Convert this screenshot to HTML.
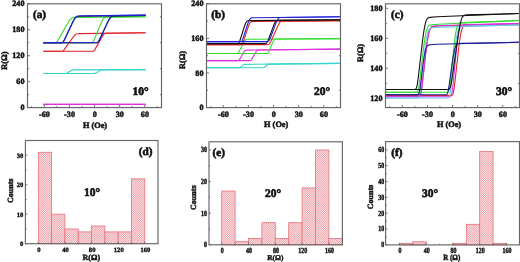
<!DOCTYPE html>
<html><head><meta charset="utf-8"><style>
html,body{margin:0;padding:0;background:#fff;width:520px;height:262px;overflow:hidden}
svg{display:block;filter:blur(0.35px)}
text{font-family:'Liberation Serif',serif;font-weight:bold;fill:#111;stroke:#111;text-rendering:geometricPrecision}
</style></head><body>
<svg width="520" height="262" viewBox="0 0 520 262">
<rect width="520" height="262" fill="#fff"/>
<rect x="27.50" y="3.80" width="134.00" height="103.80" fill="none" stroke="#666" stroke-width="1.15"/>
<line x1="31.69" y1="107.60" x2="31.69" y2="106.00" stroke="#666" stroke-width="0.9"/>
<line x1="44.25" y1="107.60" x2="44.25" y2="105.00" stroke="#666" stroke-width="0.9"/>
<line x1="56.81" y1="107.60" x2="56.81" y2="106.00" stroke="#666" stroke-width="0.9"/>
<line x1="69.38" y1="107.60" x2="69.38" y2="105.00" stroke="#666" stroke-width="0.9"/>
<line x1="81.94" y1="107.60" x2="81.94" y2="106.00" stroke="#666" stroke-width="0.9"/>
<line x1="94.50" y1="107.60" x2="94.50" y2="105.00" stroke="#666" stroke-width="0.9"/>
<line x1="107.06" y1="107.60" x2="107.06" y2="106.00" stroke="#666" stroke-width="0.9"/>
<line x1="119.62" y1="107.60" x2="119.62" y2="105.00" stroke="#666" stroke-width="0.9"/>
<line x1="132.19" y1="107.60" x2="132.19" y2="106.00" stroke="#666" stroke-width="0.9"/>
<line x1="144.75" y1="107.60" x2="144.75" y2="105.00" stroke="#666" stroke-width="0.9"/>
<line x1="157.31" y1="107.60" x2="157.31" y2="106.00" stroke="#666" stroke-width="0.9"/>
<text x="44.45" y="117.30" font-size="8.20" text-anchor="middle" stroke-width="0.45" >-60</text>
<text x="69.58" y="117.30" font-size="8.20" text-anchor="middle" stroke-width="0.45" >-30</text>
<text x="94.70" y="117.30" font-size="8.20" text-anchor="middle" stroke-width="0.45" >0</text>
<text x="119.83" y="117.30" font-size="8.20" text-anchor="middle" stroke-width="0.45" >30</text>
<text x="144.95" y="117.30" font-size="8.20" text-anchor="middle" stroke-width="0.45" >60</text>
<line x1="27.50" y1="107.60" x2="30.10" y2="107.60" stroke="#666" stroke-width="0.9"/>
<text x="24.50" y="110.10" font-size="8.20" text-anchor="end" stroke-width="0.45" >0</text>
<line x1="27.50" y1="81.65" x2="30.10" y2="81.65" stroke="#666" stroke-width="0.9"/>
<text x="24.50" y="84.15" font-size="8.20" text-anchor="end" stroke-width="0.45" >60</text>
<line x1="27.50" y1="55.70" x2="30.10" y2="55.70" stroke="#666" stroke-width="0.9"/>
<text x="24.50" y="58.20" font-size="8.20" text-anchor="end" stroke-width="0.45" >120</text>
<line x1="27.50" y1="29.75" x2="30.10" y2="29.75" stroke="#666" stroke-width="0.9"/>
<text x="24.50" y="32.25" font-size="8.20" text-anchor="end" stroke-width="0.45" >180</text>
<line x1="27.50" y1="3.80" x2="30.10" y2="3.80" stroke="#666" stroke-width="0.9"/>
<text x="24.50" y="6.30" font-size="8.20" text-anchor="end" stroke-width="0.45" >240</text>
<line x1="27.50" y1="94.62" x2="29.10" y2="94.62" stroke="#666" stroke-width="0.9"/>
<line x1="161.50" y1="94.62" x2="159.90" y2="94.62" stroke="#666" stroke-width="0.9"/>
<line x1="27.50" y1="68.67" x2="29.10" y2="68.67" stroke="#666" stroke-width="0.9"/>
<line x1="161.50" y1="68.67" x2="159.90" y2="68.67" stroke="#666" stroke-width="0.9"/>
<line x1="27.50" y1="42.72" x2="29.10" y2="42.72" stroke="#666" stroke-width="0.9"/>
<line x1="161.50" y1="42.72" x2="159.90" y2="42.72" stroke="#666" stroke-width="0.9"/>
<line x1="27.50" y1="16.77" x2="29.10" y2="16.77" stroke="#666" stroke-width="0.9"/>
<line x1="161.50" y1="16.77" x2="159.90" y2="16.77" stroke="#666" stroke-width="0.9"/>
<text x="33.00" y="18.00" font-size="11.20" text-anchor="start" stroke-width="0.62" >(a)</text>
<text x="148.60" y="95.00" font-size="11.50" text-anchor="end" stroke-width="0.63" >10&#176;</text>
<text x="95.00" y="128.20" font-size="8.30" text-anchor="middle" stroke-width="0.46" >H (Oe)</text>
<text x="0" y="0" font-size="8.3" text-anchor="middle" stroke-width="0.45" transform="translate(6.60,60.60) rotate(-90)">R(&#937;)</text>
<rect x="206.50" y="3.80" width="134.00" height="103.80" fill="none" stroke="#666" stroke-width="1.15"/>
<line x1="210.69" y1="107.60" x2="210.69" y2="106.00" stroke="#666" stroke-width="0.9"/>
<line x1="223.25" y1="107.60" x2="223.25" y2="105.00" stroke="#666" stroke-width="0.9"/>
<line x1="235.81" y1="107.60" x2="235.81" y2="106.00" stroke="#666" stroke-width="0.9"/>
<line x1="248.38" y1="107.60" x2="248.38" y2="105.00" stroke="#666" stroke-width="0.9"/>
<line x1="260.94" y1="107.60" x2="260.94" y2="106.00" stroke="#666" stroke-width="0.9"/>
<line x1="273.50" y1="107.60" x2="273.50" y2="105.00" stroke="#666" stroke-width="0.9"/>
<line x1="286.06" y1="107.60" x2="286.06" y2="106.00" stroke="#666" stroke-width="0.9"/>
<line x1="298.62" y1="107.60" x2="298.62" y2="105.00" stroke="#666" stroke-width="0.9"/>
<line x1="311.19" y1="107.60" x2="311.19" y2="106.00" stroke="#666" stroke-width="0.9"/>
<line x1="323.75" y1="107.60" x2="323.75" y2="105.00" stroke="#666" stroke-width="0.9"/>
<line x1="336.31" y1="107.60" x2="336.31" y2="106.00" stroke="#666" stroke-width="0.9"/>
<text x="223.45" y="117.30" font-size="8.20" text-anchor="middle" stroke-width="0.45" >-60</text>
<text x="248.57" y="117.30" font-size="8.20" text-anchor="middle" stroke-width="0.45" >-30</text>
<text x="273.70" y="117.30" font-size="8.20" text-anchor="middle" stroke-width="0.45" >0</text>
<text x="298.82" y="117.30" font-size="8.20" text-anchor="middle" stroke-width="0.45" >30</text>
<text x="323.95" y="117.30" font-size="8.20" text-anchor="middle" stroke-width="0.45" >60</text>
<line x1="206.50" y1="107.60" x2="209.10" y2="107.60" stroke="#666" stroke-width="0.9"/>
<text x="203.50" y="110.10" font-size="8.20" text-anchor="end" stroke-width="0.45" >0</text>
<line x1="206.50" y1="73.00" x2="209.10" y2="73.00" stroke="#666" stroke-width="0.9"/>
<text x="203.50" y="75.50" font-size="8.20" text-anchor="end" stroke-width="0.45" >80</text>
<line x1="206.50" y1="38.40" x2="209.10" y2="38.40" stroke="#666" stroke-width="0.9"/>
<text x="203.50" y="40.90" font-size="8.20" text-anchor="end" stroke-width="0.45" >160</text>
<line x1="206.50" y1="3.80" x2="209.10" y2="3.80" stroke="#666" stroke-width="0.9"/>
<text x="203.50" y="6.30" font-size="8.20" text-anchor="end" stroke-width="0.45" >240</text>
<line x1="206.50" y1="90.30" x2="208.10" y2="90.30" stroke="#666" stroke-width="0.9"/>
<line x1="340.50" y1="90.30" x2="338.90" y2="90.30" stroke="#666" stroke-width="0.9"/>
<line x1="206.50" y1="55.70" x2="208.10" y2="55.70" stroke="#666" stroke-width="0.9"/>
<line x1="340.50" y1="55.70" x2="338.90" y2="55.70" stroke="#666" stroke-width="0.9"/>
<line x1="206.50" y1="21.10" x2="208.10" y2="21.10" stroke="#666" stroke-width="0.9"/>
<line x1="340.50" y1="21.10" x2="338.90" y2="21.10" stroke="#666" stroke-width="0.9"/>
<text x="211.20" y="18.00" font-size="11.20" text-anchor="start" stroke-width="0.62" >(b)</text>
<text x="330.20" y="95.00" font-size="11.50" text-anchor="end" stroke-width="0.63" >20&#176;</text>
<text x="276.20" y="126.50" font-size="8.30" text-anchor="middle" stroke-width="0.46" >H (Oe)</text>
<text x="0" y="0" font-size="8.3" text-anchor="middle" stroke-width="0.45" transform="translate(184.80,60.00) rotate(-90)">R(&#937;)</text>
<rect x="385.50" y="3.80" width="134.00" height="103.80" fill="none" stroke="#666" stroke-width="1.15"/>
<line x1="389.69" y1="107.60" x2="389.69" y2="106.00" stroke="#666" stroke-width="0.9"/>
<line x1="402.25" y1="107.60" x2="402.25" y2="105.00" stroke="#666" stroke-width="0.9"/>
<line x1="414.81" y1="107.60" x2="414.81" y2="106.00" stroke="#666" stroke-width="0.9"/>
<line x1="427.38" y1="107.60" x2="427.38" y2="105.00" stroke="#666" stroke-width="0.9"/>
<line x1="439.94" y1="107.60" x2="439.94" y2="106.00" stroke="#666" stroke-width="0.9"/>
<line x1="452.50" y1="107.60" x2="452.50" y2="105.00" stroke="#666" stroke-width="0.9"/>
<line x1="465.06" y1="107.60" x2="465.06" y2="106.00" stroke="#666" stroke-width="0.9"/>
<line x1="477.62" y1="107.60" x2="477.62" y2="105.00" stroke="#666" stroke-width="0.9"/>
<line x1="490.19" y1="107.60" x2="490.19" y2="106.00" stroke="#666" stroke-width="0.9"/>
<line x1="502.75" y1="107.60" x2="502.75" y2="105.00" stroke="#666" stroke-width="0.9"/>
<line x1="515.31" y1="107.60" x2="515.31" y2="106.00" stroke="#666" stroke-width="0.9"/>
<text x="402.45" y="117.30" font-size="8.20" text-anchor="middle" stroke-width="0.45" >-60</text>
<text x="427.57" y="117.30" font-size="8.20" text-anchor="middle" stroke-width="0.45" >-30</text>
<text x="452.70" y="117.30" font-size="8.20" text-anchor="middle" stroke-width="0.45" >0</text>
<text x="477.82" y="117.30" font-size="8.20" text-anchor="middle" stroke-width="0.45" >30</text>
<text x="502.95" y="117.30" font-size="8.20" text-anchor="middle" stroke-width="0.45" >60</text>
<line x1="385.50" y1="98.30" x2="388.10" y2="98.30" stroke="#666" stroke-width="0.9"/>
<text x="382.50" y="100.80" font-size="8.20" text-anchor="end" stroke-width="0.45" >120</text>
<line x1="385.50" y1="68.30" x2="388.10" y2="68.30" stroke="#666" stroke-width="0.9"/>
<text x="382.50" y="70.80" font-size="8.20" text-anchor="end" stroke-width="0.45" >140</text>
<line x1="385.50" y1="38.30" x2="388.10" y2="38.30" stroke="#666" stroke-width="0.9"/>
<text x="382.50" y="40.80" font-size="8.20" text-anchor="end" stroke-width="0.45" >160</text>
<line x1="385.50" y1="8.30" x2="388.10" y2="8.30" stroke="#666" stroke-width="0.9"/>
<text x="382.50" y="10.80" font-size="8.20" text-anchor="end" stroke-width="0.45" >180</text>
<line x1="385.50" y1="83.30" x2="387.10" y2="83.30" stroke="#666" stroke-width="0.9"/>
<line x1="519.50" y1="83.30" x2="517.90" y2="83.30" stroke="#666" stroke-width="0.9"/>
<line x1="385.50" y1="53.30" x2="387.10" y2="53.30" stroke="#666" stroke-width="0.9"/>
<line x1="519.50" y1="53.30" x2="517.90" y2="53.30" stroke="#666" stroke-width="0.9"/>
<line x1="385.50" y1="23.30" x2="387.10" y2="23.30" stroke="#666" stroke-width="0.9"/>
<line x1="519.50" y1="23.30" x2="517.90" y2="23.30" stroke="#666" stroke-width="0.9"/>
<text x="391.00" y="18.00" font-size="11.20" text-anchor="start" stroke-width="0.62" >(c)</text>
<text x="512.20" y="95.00" font-size="11.50" text-anchor="end" stroke-width="0.63" >30&#176;</text>
<text x="449.00" y="126.50" font-size="8.30" text-anchor="middle" stroke-width="0.46" >H (Oe)</text>
<text x="0" y="0" font-size="8.3" text-anchor="middle" stroke-width="0.45" transform="translate(363.00,53.00) rotate(-90)">R(&#937;)</text>
<polyline points="43.20,104.40 145.60,104.40" fill="none" stroke="#dd33dd" stroke-width="1.10" stroke-linejoin="round"/>
<polyline points="43.20,104.40 145.60,104.40" fill="none" stroke="#dd33dd" stroke-width="1.10" stroke-linejoin="round"/>
<polyline points="43.20,73.50 63.90,73.50 65.35,73.45 66.10,73.29 66.90,72.97 70.85,70.82 71.90,70.32 72.90,70.01 74.05,69.89 145.60,69.60" fill="none" stroke="#30d4d0" stroke-width="1.10" stroke-linejoin="round"/>
<polyline points="43.20,73.50 93.95,73.49 94.85,73.39 95.65,73.13 96.50,72.69 100.40,70.35 101.35,69.98 102.40,69.80 145.60,69.60" fill="none" stroke="#30d4d0" stroke-width="1.10" stroke-linejoin="round"/>
<polyline points="43.20,51.30 61.35,51.30 62.20,51.24 62.75,51.06 63.40,50.57 64.20,49.60 72.60,37.85 74.10,35.88 74.90,35.01 75.60,34.44 76.35,34.04 77.15,33.82 78.10,33.72 79.75,33.67 145.60,32.80" fill="none" stroke="#e0262a" stroke-width="1.10" stroke-linejoin="round"/>
<polyline points="43.20,51.30 91.75,51.30 93.10,51.24 93.60,51.08 94.00,50.80 94.40,50.37 94.90,49.64 101.60,37.70 102.90,35.55 103.45,34.80 104.00,34.21 104.50,33.83 105.05,33.56 105.90,33.38 107.30,33.31 145.60,32.80" fill="none" stroke="#e0262a" stroke-width="1.10" stroke-linejoin="round"/>
<polyline points="43.20,42.80 54.60,42.78 55.65,42.61 56.05,42.43 56.45,42.14 57.20,41.32 58.15,39.87 66.80,24.78 69.05,21.12 70.15,19.67 71.10,18.70 72.10,18.02 73.15,17.62 74.50,17.42 76.75,17.34 145.60,16.70" fill="none" stroke="#33dd33" stroke-width="1.10" stroke-linejoin="round"/>
<polyline points="43.20,42.80 89.90,42.80 91.10,42.77 91.75,42.68 92.40,42.39 92.95,41.89 93.50,41.10 94.10,39.95 95.25,37.30 100.60,24.26 102.25,20.65 102.90,19.50 103.55,18.59 104.20,17.94 104.90,17.49 105.40,17.30 106.00,17.17 107.75,17.06 145.60,16.70" fill="none" stroke="#33dd33" stroke-width="1.10" stroke-linejoin="round"/>
<polyline points="43.20,42.80 60.75,42.79 61.85,42.67 62.25,42.52 62.65,42.27 63.05,41.90 63.50,41.32 64.50,39.56 72.00,23.74 73.90,20.05 74.85,18.56 75.70,17.56 76.60,16.86 77.60,16.45 78.80,16.26 80.80,16.19 145.60,15.50" fill="none" stroke="#111" stroke-width="1.10" stroke-linejoin="round"/>
<polyline points="43.20,42.80 94.95,42.80 96.15,42.77 96.85,42.67 97.45,42.41 98.00,41.94 98.55,41.23 99.20,40.11 100.45,37.54 107.05,23.37 108.90,19.73 109.60,18.59 110.30,17.65 111.00,16.93 111.70,16.45 112.30,16.18 112.95,16.00 114.85,15.84 145.60,15.50" fill="none" stroke="#111" stroke-width="1.10" stroke-linejoin="round"/>
<polyline points="43.20,42.80 60.95,42.79 62.05,42.66 62.45,42.51 62.85,42.26 63.25,41.88 63.70,41.28 64.70,39.47 72.05,23.54 73.95,19.76 74.90,18.25 75.75,17.24 76.65,16.54 77.65,16.13 78.85,15.94 80.85,15.87 145.60,15.10" fill="none" stroke="#2222dd" stroke-width="1.10" stroke-linejoin="round"/>
<polyline points="43.20,42.80 95.25,42.80 96.45,42.77 97.15,42.67 97.75,42.40 98.30,41.93 98.85,41.21 99.50,40.07 100.75,37.47 107.35,23.12 109.20,19.43 109.90,18.27 110.60,17.31 111.30,16.59 112.00,16.09 112.60,15.82 113.25,15.64 115.15,15.47 145.60,15.10" fill="none" stroke="#2222dd" stroke-width="1.10" stroke-linejoin="round"/>
<polyline points="207.00,67.70 239.20,67.68 239.85,67.55 240.40,67.26 242.70,65.33 243.50,64.78 244.25,64.49 245.25,64.38 340.00,63.40" fill="none" stroke="#30d4d0" stroke-width="1.10" stroke-linejoin="round"/>
<polyline points="207.00,67.70 262.95,67.69 263.75,67.58 264.40,67.27 266.95,65.12 267.75,64.55 268.45,64.27 269.30,64.14 340.00,63.40" fill="none" stroke="#30d4d0" stroke-width="1.10" stroke-linejoin="round"/>
<polyline points="207.00,60.60 237.25,60.60 238.40,60.51 239.00,60.18 239.65,59.39 243.40,52.92 244.45,51.32 244.90,50.82 245.40,50.44 245.90,50.22 246.55,50.11 340.00,49.10" fill="none" stroke="#dd33dd" stroke-width="1.10" stroke-linejoin="round"/>
<polyline points="207.00,60.60 249.10,60.60 250.30,60.54 250.65,60.42 251.00,60.18 251.65,59.38 255.50,52.67 256.50,51.15 257.00,50.61 257.45,50.28 257.95,50.08 258.55,49.99 340.00,49.10" fill="none" stroke="#dd33dd" stroke-width="1.10" stroke-linejoin="round"/>
<polyline points="207.00,53.50 236.25,53.50 237.00,53.48 237.45,53.39 237.80,53.21 238.10,52.95 238.75,52.03 243.65,42.89 244.85,40.86 245.40,40.15 245.95,39.67 246.50,39.39 247.15,39.25 340.00,38.60" fill="none" stroke="#33dd33" stroke-width="1.10" stroke-linejoin="round"/>
<polyline points="207.00,53.50 266.25,53.50 267.45,53.45 267.85,53.30 268.20,53.01 268.50,52.61 268.85,51.96 272.45,43.05 273.55,40.73 274.05,39.99 274.55,39.50 275.10,39.21 275.75,39.07 340.00,38.60" fill="none" stroke="#33dd33" stroke-width="1.10" stroke-linejoin="round"/>
<polyline points="207.00,44.60 240.55,44.60 241.30,44.56 241.75,44.42 242.10,44.14 242.40,43.72 243.05,42.25 247.70,28.39 248.50,26.16 249.15,24.57 249.85,23.20 250.50,22.32 251.20,21.77 252.05,21.48 252.85,21.39 254.40,21.36 340.00,20.60" fill="none" stroke="#e0262a" stroke-width="1.10" stroke-linejoin="round"/>
<polyline points="207.00,44.60 266.25,44.60 268.10,44.52 268.70,44.33 269.25,43.96 269.75,43.41 270.30,42.55 271.45,40.23 277.25,27.32 278.65,24.39 279.35,23.17 280.00,22.29 280.65,21.70 281.40,21.33 282.30,21.16 283.85,21.10 340.00,20.60" fill="none" stroke="#e0262a" stroke-width="1.10" stroke-linejoin="round"/>
<polyline points="207.00,43.60 237.25,43.60 238.00,43.56 238.45,43.41 238.75,43.17 239.05,42.75 239.70,41.25 244.00,27.71 244.75,25.51 245.40,23.84 246.05,22.51 246.70,21.58 247.40,21.00 248.25,20.70 249.05,20.62 250.65,20.59 340.00,19.80" fill="none" stroke="#111" stroke-width="1.10" stroke-linejoin="round"/>
<polyline points="207.00,43.60 263.95,43.60 265.15,43.57 265.85,43.43 266.45,43.10 266.95,42.58 267.45,41.79 268.00,40.65 269.05,37.99 273.35,26.34 274.10,24.46 274.75,23.05 275.40,21.93 276.05,21.16 276.70,20.70 277.50,20.45 278.30,20.37 279.75,20.34 340.00,19.80" fill="none" stroke="#111" stroke-width="1.10" stroke-linejoin="round"/>
<polyline points="207.00,41.60 240.25,41.60 241.00,41.56 241.45,41.42 241.80,41.13 242.10,40.70 242.75,39.19 247.40,24.97 248.20,22.68 248.85,21.05 249.55,19.65 250.20,18.75 250.90,18.18 251.75,17.88 252.55,17.79 254.10,17.75 340.00,16.80" fill="none" stroke="#2222dd" stroke-width="1.10" stroke-linejoin="round"/>
<polyline points="207.00,41.60 265.70,41.60 267.50,41.52 268.10,41.33 268.65,40.94 269.15,40.32 269.65,39.45 270.80,36.76 275.45,24.37 276.80,21.05 277.50,19.65 278.15,18.69 278.80,18.05 279.50,17.69 280.40,17.51 281.90,17.45 340.00,16.80" fill="none" stroke="#2222dd" stroke-width="1.10" stroke-linejoin="round"/>
<polyline points="386.00,95.50 418.20,95.49 418.85,95.45 419.30,95.33 419.70,95.08 420.00,94.74 420.50,93.69 420.95,92.08 421.40,89.74 421.85,86.73 422.65,80.25 426.00,50.76 427.00,43.10 427.85,37.64 428.75,33.15 429.20,31.44 429.65,30.08 430.10,29.03 430.60,28.17 431.15,27.53 431.80,27.06 432.60,26.75 433.65,26.56 440.00,26.00 519.00,24.00" fill="none" stroke="#e0262a" stroke-width="1.10" stroke-linejoin="round"/>
<polyline points="386.00,95.50 450.15,95.50 451.30,95.45 451.95,95.26 452.30,94.98 452.60,94.56 452.90,93.93 453.15,93.19 453.65,91.04 454.20,87.64 455.10,80.36 458.50,49.70 459.45,42.20 460.30,36.52 461.05,32.54 461.80,29.59 462.20,28.42 462.60,27.50 463.00,26.79 463.45,26.22 464.10,25.69 464.85,25.37 465.80,25.19 467.40,25.09 519.00,24.00" fill="none" stroke="#e0262a" stroke-width="1.10" stroke-linejoin="round"/>
<polyline points="386.00,96.80 418.20,96.79 418.85,96.75 419.30,96.63 419.70,96.37 420.00,96.02 420.50,94.95 420.95,93.29 421.40,90.89 421.85,87.80 422.65,81.15 426.00,50.88 427.00,43.02 427.85,37.42 428.75,32.81 429.20,31.06 429.65,29.66 430.10,28.58 430.60,27.71 431.15,27.05 431.80,26.57 432.60,26.26 433.65,26.06 440.00,25.50 519.00,23.50" fill="none" stroke="#dd33dd" stroke-width="1.10" stroke-linejoin="round"/>
<polyline points="386.00,96.80 448.60,96.80 449.75,96.75 450.35,96.57 450.70,96.30 451.00,95.88 451.30,95.23 451.55,94.45 452.05,92.12 452.55,88.72 453.40,80.98 456.35,50.31 457.25,42.33 458.05,36.44 458.75,32.39 459.50,29.23 459.85,28.14 460.25,27.15 460.70,26.33 461.15,25.75 461.80,25.23 462.55,24.92 463.50,24.76 465.10,24.67 470.00,24.50 519.00,23.50" fill="none" stroke="#dd33dd" stroke-width="1.10" stroke-linejoin="round"/>
<polyline points="386.00,98.00 416.75,97.99 417.40,97.94 417.85,97.81 418.25,97.53 418.55,97.15 419.00,96.15 419.45,94.51 419.90,92.12 420.35,89.04 421.15,82.42 424.50,52.28 425.50,44.45 426.35,38.87 427.25,34.34 427.70,32.63 428.15,31.27 428.60,30.20 429.10,29.32 429.65,28.67 430.30,28.19 431.10,27.88 432.20,27.68 438.95,27.09 519.00,25.00" fill="none" stroke="#6cc8f0" stroke-width="1.10" stroke-linejoin="round"/>
<polyline points="386.00,98.00 446.65,98.00 447.80,97.95 448.40,97.76 448.75,97.48 449.05,97.07 449.35,96.42 449.60,95.65 450.10,93.41 450.60,90.17 451.50,82.42 454.70,51.27 455.60,43.70 456.45,37.72 457.20,33.60 457.95,30.61 458.35,29.44 458.75,28.53 459.15,27.84 459.60,27.28 460.25,26.77 461.00,26.47 462.00,26.31 463.60,26.22 468.95,26.04 519.00,25.00" fill="none" stroke="#6cc8f0" stroke-width="1.10" stroke-linejoin="round"/>
<polyline points="386.00,92.20 415.75,92.19 416.40,92.14 416.85,92.02 417.25,91.75 417.55,91.39 418.00,90.44 418.45,88.87 418.90,86.59 419.35,83.66 420.15,77.35 423.50,48.63 424.50,41.17 425.35,35.86 426.25,31.51 426.70,29.84 427.15,28.50 427.65,27.36 428.15,26.54 428.70,25.92 429.35,25.46 430.30,25.10 431.80,24.83 437.95,24.31 519.00,20.50" fill="none" stroke="#33dd33" stroke-width="1.10" stroke-linejoin="round"/>
<polyline points="386.00,92.20 446.10,92.20 447.25,92.16 447.85,91.98 448.20,91.72 448.50,91.32 448.80,90.69 449.05,89.94 449.55,87.71 450.05,84.44 450.90,77.00 453.90,46.97 454.80,39.31 455.60,33.68 456.30,29.82 457.05,26.81 457.45,25.64 457.85,24.73 458.30,23.97 458.75,23.43 459.30,23.00 460.00,22.68 460.80,22.53 462.00,22.44 519.00,20.50" fill="none" stroke="#33dd33" stroke-width="1.10" stroke-linejoin="round"/>
<polyline points="386.00,94.80 416.60,94.80 417.70,94.67 418.05,94.50 418.35,94.24 418.80,93.51 419.25,92.22 419.65,90.49 420.05,88.20 420.75,83.13 423.25,62.75 424.05,57.33 424.85,52.92 425.65,49.66 426.05,48.44 426.50,47.38 426.90,46.66 427.45,45.93 428.00,45.45 428.60,45.14 429.35,44.91 430.40,44.76 436.95,44.23 519.00,42.30" fill="none" stroke="#1c1c99" stroke-width="1.10" stroke-linejoin="round"/>
<polyline points="386.00,94.80 444.60,94.80 445.75,94.77 446.35,94.64 446.70,94.44 447.00,94.15 447.30,93.68 447.55,93.12 448.05,91.47 448.55,89.05 449.40,83.53 452.35,61.68 453.25,55.99 454.05,51.78 454.75,48.89 455.50,46.64 455.90,45.76 456.30,45.08 456.75,44.52 457.20,44.12 457.75,43.81 458.45,43.60 459.30,43.48 460.50,43.42 519.00,42.30" fill="none" stroke="#1c1c99" stroke-width="1.10" stroke-linejoin="round"/>
<polyline points="386.00,89.50 414.30,89.49 414.95,89.43 415.40,89.29 415.75,89.05 416.10,88.60 416.55,87.59 417.00,85.92 417.45,83.55 417.90,80.53 418.75,73.68 422.30,42.73 423.30,35.01 424.20,29.10 425.15,24.29 425.60,22.53 426.05,21.12 426.55,19.92 427.05,19.05 427.60,18.39 428.20,17.94 429.00,17.61 430.10,17.39 436.95,16.76 519.00,13.50" fill="none" stroke="#111" stroke-width="1.10" stroke-linejoin="round"/>
<polyline points="386.00,89.50 447.25,89.50 448.45,89.45 449.10,89.24 449.45,88.97 449.75,88.58 450.05,88.00 450.35,87.19 450.90,85.07 451.50,81.89 452.65,74.34 457.75,38.57 458.85,31.45 459.75,26.30 460.60,22.28 461.40,19.39 462.20,17.39 462.65,16.62 463.10,16.05 463.70,15.54 464.45,15.18 465.30,14.99 466.55,14.89 519.00,13.50" fill="none" stroke="#111" stroke-width="1.10" stroke-linejoin="round"/>
<defs><pattern id="hatch" patternUnits="userSpaceOnUse" width="1.5" height="1.5" patternTransform="rotate(-45)"><rect width="1.5" height="1.5" fill="#fef4f5"/><rect width="0.8" height="1.5" fill="#ec9aa2"/></pattern></defs>
<rect x="38.30" y="152.29" width="13.31" height="91.41" fill="url(#hatch)" stroke="#e8707a" stroke-width="0.8"/>
<rect x="51.61" y="214.21" width="13.31" height="29.49" fill="url(#hatch)" stroke="#e8707a" stroke-width="0.8"/>
<rect x="64.92" y="228.96" width="13.31" height="14.74" fill="url(#hatch)" stroke="#e8707a" stroke-width="0.8"/>
<rect x="78.24" y="231.91" width="13.31" height="11.79" fill="url(#hatch)" stroke="#e8707a" stroke-width="0.8"/>
<rect x="91.55" y="226.01" width="13.31" height="17.69" fill="url(#hatch)" stroke="#e8707a" stroke-width="0.8"/>
<rect x="104.86" y="231.91" width="13.31" height="11.79" fill="url(#hatch)" stroke="#e8707a" stroke-width="0.8"/>
<rect x="118.17" y="231.91" width="13.31" height="11.79" fill="url(#hatch)" stroke="#e8707a" stroke-width="0.8"/>
<rect x="131.48" y="178.83" width="13.31" height="64.87" fill="url(#hatch)" stroke="#e8707a" stroke-width="0.8"/>
<rect x="25.40" y="140.50" width="132.60" height="103.20" fill="none" stroke="#666" stroke-width="1.15"/>
<line x1="38.30" y1="243.70" x2="38.30" y2="241.70" stroke="#666" stroke-width="0.9"/>
<line x1="51.61" y1="243.70" x2="51.61" y2="242.50" stroke="#666" stroke-width="0.9"/>
<line x1="64.92" y1="243.70" x2="64.92" y2="241.70" stroke="#666" stroke-width="0.9"/>
<line x1="78.24" y1="243.70" x2="78.24" y2="242.50" stroke="#666" stroke-width="0.9"/>
<line x1="91.55" y1="243.70" x2="91.55" y2="241.70" stroke="#666" stroke-width="0.9"/>
<line x1="104.86" y1="243.70" x2="104.86" y2="242.50" stroke="#666" stroke-width="0.9"/>
<line x1="118.17" y1="243.70" x2="118.17" y2="241.70" stroke="#666" stroke-width="0.9"/>
<line x1="131.48" y1="243.70" x2="131.48" y2="242.50" stroke="#666" stroke-width="0.9"/>
<line x1="144.80" y1="243.70" x2="144.80" y2="241.70" stroke="#666" stroke-width="0.9"/>
<text x="38.90" y="252.10" font-size="6.60" text-anchor="middle" stroke-width="0.36" >0</text>
<text x="65.52" y="252.10" font-size="6.60" text-anchor="middle" stroke-width="0.36" >40</text>
<text x="92.15" y="252.10" font-size="6.60" text-anchor="middle" stroke-width="0.36" >80</text>
<text x="118.77" y="252.10" font-size="6.60" text-anchor="middle" stroke-width="0.36" >120</text>
<text x="145.40" y="252.10" font-size="6.60" text-anchor="middle" stroke-width="0.36" >160</text>
<line x1="25.40" y1="243.70" x2="27.40" y2="243.70" stroke="#666" stroke-width="0.9"/>
<text x="23.40" y="246.00" font-size="6.60" text-anchor="end" stroke-width="0.36" >0</text>
<line x1="25.40" y1="214.21" x2="27.40" y2="214.21" stroke="#666" stroke-width="0.9"/>
<text x="23.40" y="216.51" font-size="6.60" text-anchor="end" stroke-width="0.36" >10</text>
<line x1="25.40" y1="184.73" x2="27.40" y2="184.73" stroke="#666" stroke-width="0.9"/>
<text x="23.40" y="187.03" font-size="6.60" text-anchor="end" stroke-width="0.36" >20</text>
<line x1="25.40" y1="155.24" x2="27.40" y2="155.24" stroke="#666" stroke-width="0.9"/>
<text x="23.40" y="157.54" font-size="6.60" text-anchor="end" stroke-width="0.36" >30</text>
<line x1="25.40" y1="228.96" x2="26.60" y2="228.96" stroke="#666" stroke-width="0.9"/>
<line x1="25.40" y1="199.47" x2="26.60" y2="199.47" stroke="#666" stroke-width="0.9"/>
<line x1="25.40" y1="169.99" x2="26.60" y2="169.99" stroke="#666" stroke-width="0.9"/>
<text x="138.80" y="155.20" font-size="11.20" text-anchor="start" stroke-width="0.62" >(d)</text>
<text x="84.00" y="195.60" font-size="11.50" text-anchor="start" stroke-width="0.63" >10&#176;</text>
<text x="91.30" y="260.30" font-size="8.00" text-anchor="middle" stroke-width="0.44" >R(&#937;)</text>
<text x="0" y="0" font-size="8.0" text-anchor="middle" stroke-width="0.44" transform="translate(13.20,190.80) rotate(-90)">Counts</text>
<rect x="221.70" y="191.09" width="13.40" height="53.71" fill="url(#hatch)" stroke="#e8707a" stroke-width="0.8"/>
<rect x="235.10" y="241.64" width="13.40" height="3.16" fill="url(#hatch)" stroke="#e8707a" stroke-width="0.8"/>
<rect x="248.50" y="238.48" width="13.40" height="6.32" fill="url(#hatch)" stroke="#e8707a" stroke-width="0.8"/>
<rect x="261.90" y="222.68" width="13.40" height="22.12" fill="url(#hatch)" stroke="#e8707a" stroke-width="0.8"/>
<rect x="275.30" y="238.48" width="13.40" height="6.32" fill="url(#hatch)" stroke="#e8707a" stroke-width="0.8"/>
<rect x="288.70" y="222.68" width="13.40" height="22.12" fill="url(#hatch)" stroke="#e8707a" stroke-width="0.8"/>
<rect x="302.10" y="187.93" width="13.40" height="56.87" fill="url(#hatch)" stroke="#e8707a" stroke-width="0.8"/>
<rect x="315.50" y="150.01" width="13.40" height="94.79" fill="url(#hatch)" stroke="#e8707a" stroke-width="0.8"/>
<rect x="328.90" y="238.48" width="13.40" height="6.32" fill="url(#hatch)" stroke="#e8707a" stroke-width="0.8"/>
<rect x="209.00" y="141.80" width="133.40" height="103.00" fill="none" stroke="#666" stroke-width="1.15"/>
<line x1="221.70" y1="244.80" x2="221.70" y2="242.80" stroke="#666" stroke-width="0.9"/>
<line x1="235.10" y1="244.80" x2="235.10" y2="243.60" stroke="#666" stroke-width="0.9"/>
<line x1="248.50" y1="244.80" x2="248.50" y2="242.80" stroke="#666" stroke-width="0.9"/>
<line x1="261.90" y1="244.80" x2="261.90" y2="243.60" stroke="#666" stroke-width="0.9"/>
<line x1="275.30" y1="244.80" x2="275.30" y2="242.80" stroke="#666" stroke-width="0.9"/>
<line x1="288.70" y1="244.80" x2="288.70" y2="243.60" stroke="#666" stroke-width="0.9"/>
<line x1="302.10" y1="244.80" x2="302.10" y2="242.80" stroke="#666" stroke-width="0.9"/>
<line x1="315.50" y1="244.80" x2="315.50" y2="243.60" stroke="#666" stroke-width="0.9"/>
<line x1="328.90" y1="244.80" x2="328.90" y2="242.80" stroke="#666" stroke-width="0.9"/>
<text x="0" y="0" font-size="6.00" text-anchor="middle" stroke-width="0.33" transform="translate(222.30,253.20) scale(1,1.300)">0</text>
<text x="0" y="0" font-size="6.00" text-anchor="middle" stroke-width="0.33" transform="translate(249.10,253.20) scale(1,1.300)">40</text>
<text x="0" y="0" font-size="6.00" text-anchor="middle" stroke-width="0.33" transform="translate(275.90,253.20) scale(1,1.300)">80</text>
<text x="0" y="0" font-size="6.00" text-anchor="middle" stroke-width="0.33" transform="translate(302.70,253.20) scale(1,1.300)">120</text>
<text x="0" y="0" font-size="6.00" text-anchor="middle" stroke-width="0.33" transform="translate(329.50,253.20) scale(1,1.300)">160</text>
<line x1="209.00" y1="244.80" x2="211.00" y2="244.80" stroke="#666" stroke-width="0.9"/>
<text x="0" y="0" font-size="6.00" text-anchor="end" stroke-width="0.33" transform="translate(207.00,247.10) scale(1,1.300)">0</text>
<line x1="209.00" y1="213.20" x2="211.00" y2="213.20" stroke="#666" stroke-width="0.9"/>
<text x="0" y="0" font-size="6.00" text-anchor="end" stroke-width="0.33" transform="translate(207.00,215.50) scale(1,1.300)">10</text>
<line x1="209.00" y1="181.61" x2="211.00" y2="181.61" stroke="#666" stroke-width="0.9"/>
<text x="0" y="0" font-size="6.00" text-anchor="end" stroke-width="0.33" transform="translate(207.00,183.91) scale(1,1.300)">20</text>
<line x1="209.00" y1="150.01" x2="211.00" y2="150.01" stroke="#666" stroke-width="0.9"/>
<text x="0" y="0" font-size="6.00" text-anchor="end" stroke-width="0.33" transform="translate(207.00,152.31) scale(1,1.300)">30</text>
<line x1="209.00" y1="229.00" x2="210.20" y2="229.00" stroke="#666" stroke-width="0.9"/>
<line x1="209.00" y1="197.41" x2="210.20" y2="197.41" stroke="#666" stroke-width="0.9"/>
<line x1="209.00" y1="165.81" x2="210.20" y2="165.81" stroke="#666" stroke-width="0.9"/>
<text x="212.60" y="155.60" font-size="11.20" text-anchor="start" stroke-width="0.62" >(e)</text>
<text x="265.00" y="196.90" font-size="11.50" text-anchor="start" stroke-width="0.63" >20&#176;</text>
<text x="275.30" y="260.30" font-size="7.40" text-anchor="middle" stroke-width="0.41" >R(&#937;)</text>
<text x="0" y="0" font-size="8.0" text-anchor="middle" stroke-width="0.44" transform="translate(196.00,197.70) rotate(-90)">Counts</text>
<rect x="399.40" y="243.32" width="13.38" height="1.58" fill="url(#hatch)" stroke="#e8707a" stroke-width="0.8"/>
<rect x="412.78" y="241.73" width="13.38" height="3.17" fill="url(#hatch)" stroke="#e8707a" stroke-width="0.8"/>
<rect x="452.92" y="243.32" width="13.38" height="1.58" fill="url(#hatch)" stroke="#e8707a" stroke-width="0.8"/>
<rect x="466.30" y="224.30" width="13.38" height="20.60" fill="url(#hatch)" stroke="#e8707a" stroke-width="0.8"/>
<rect x="479.68" y="151.42" width="13.38" height="93.48" fill="url(#hatch)" stroke="#e8707a" stroke-width="0.8"/>
<rect x="493.06" y="243.32" width="13.38" height="1.58" fill="url(#hatch)" stroke="#e8707a" stroke-width="0.8"/>
<rect x="385.60" y="141.60" width="133.90" height="103.30" fill="none" stroke="#666" stroke-width="1.15"/>
<line x1="399.40" y1="244.90" x2="399.40" y2="242.90" stroke="#666" stroke-width="0.9"/>
<line x1="412.78" y1="244.90" x2="412.78" y2="243.70" stroke="#666" stroke-width="0.9"/>
<line x1="426.16" y1="244.90" x2="426.16" y2="242.90" stroke="#666" stroke-width="0.9"/>
<line x1="439.54" y1="244.90" x2="439.54" y2="243.70" stroke="#666" stroke-width="0.9"/>
<line x1="452.92" y1="244.90" x2="452.92" y2="242.90" stroke="#666" stroke-width="0.9"/>
<line x1="466.30" y1="244.90" x2="466.30" y2="243.70" stroke="#666" stroke-width="0.9"/>
<line x1="479.68" y1="244.90" x2="479.68" y2="242.90" stroke="#666" stroke-width="0.9"/>
<line x1="493.06" y1="244.90" x2="493.06" y2="243.70" stroke="#666" stroke-width="0.9"/>
<line x1="506.44" y1="244.90" x2="506.44" y2="242.90" stroke="#666" stroke-width="0.9"/>
<text x="0" y="0" font-size="6.00" text-anchor="middle" stroke-width="0.33" transform="translate(400.00,253.30) scale(1,1.300)">0</text>
<text x="0" y="0" font-size="6.00" text-anchor="middle" stroke-width="0.33" transform="translate(426.76,253.30) scale(1,1.300)">40</text>
<text x="0" y="0" font-size="6.00" text-anchor="middle" stroke-width="0.33" transform="translate(453.52,253.30) scale(1,1.300)">80</text>
<text x="0" y="0" font-size="6.00" text-anchor="middle" stroke-width="0.33" transform="translate(480.28,253.30) scale(1,1.300)">120</text>
<text x="0" y="0" font-size="6.00" text-anchor="middle" stroke-width="0.33" transform="translate(507.04,253.30) scale(1,1.300)">160</text>
<line x1="385.60" y1="244.90" x2="387.60" y2="244.90" stroke="#666" stroke-width="0.9"/>
<text x="0" y="0" font-size="6.00" text-anchor="end" stroke-width="0.33" transform="translate(384.20,247.20) scale(1,1.300)">0</text>
<line x1="385.60" y1="229.06" x2="387.60" y2="229.06" stroke="#666" stroke-width="0.9"/>
<text x="0" y="0" font-size="6.00" text-anchor="end" stroke-width="0.33" transform="translate(384.20,231.36) scale(1,1.300)">10</text>
<line x1="385.60" y1="213.21" x2="387.60" y2="213.21" stroke="#666" stroke-width="0.9"/>
<text x="0" y="0" font-size="6.00" text-anchor="end" stroke-width="0.33" transform="translate(384.20,215.51) scale(1,1.300)">20</text>
<line x1="385.60" y1="197.37" x2="387.60" y2="197.37" stroke="#666" stroke-width="0.9"/>
<text x="0" y="0" font-size="6.00" text-anchor="end" stroke-width="0.33" transform="translate(384.20,199.67) scale(1,1.300)">30</text>
<line x1="385.60" y1="181.53" x2="387.60" y2="181.53" stroke="#666" stroke-width="0.9"/>
<text x="0" y="0" font-size="6.00" text-anchor="end" stroke-width="0.33" transform="translate(384.20,183.83) scale(1,1.300)">40</text>
<line x1="385.60" y1="165.68" x2="387.60" y2="165.68" stroke="#666" stroke-width="0.9"/>
<text x="0" y="0" font-size="6.00" text-anchor="end" stroke-width="0.33" transform="translate(384.20,167.98) scale(1,1.300)">50</text>
<line x1="385.60" y1="149.84" x2="387.60" y2="149.84" stroke="#666" stroke-width="0.9"/>
<text x="0" y="0" font-size="6.00" text-anchor="end" stroke-width="0.33" transform="translate(384.20,152.14) scale(1,1.300)">60</text>
<line x1="385.60" y1="236.98" x2="386.80" y2="236.98" stroke="#666" stroke-width="0.9"/>
<line x1="385.60" y1="221.13" x2="386.80" y2="221.13" stroke="#666" stroke-width="0.9"/>
<line x1="385.60" y1="205.29" x2="386.80" y2="205.29" stroke="#666" stroke-width="0.9"/>
<line x1="385.60" y1="189.45" x2="386.80" y2="189.45" stroke="#666" stroke-width="0.9"/>
<line x1="385.60" y1="173.60" x2="386.80" y2="173.60" stroke="#666" stroke-width="0.9"/>
<line x1="385.60" y1="157.76" x2="386.80" y2="157.76" stroke="#666" stroke-width="0.9"/>
<text x="391.20" y="155.60" font-size="11.20" text-anchor="start" stroke-width="0.62" >(f)</text>
<text x="422.00" y="196.90" font-size="11.50" text-anchor="start" stroke-width="0.63" >30&#176;</text>
<text x="0" y="0" font-size="7.00" text-anchor="middle" stroke-width="0.39" transform="translate(451.70,259.60) scale(1,1.150)">R (&#937;)</text>
<text x="0" y="0" font-size="8.0" text-anchor="middle" stroke-width="0.44" transform="translate(372.60,197.00) rotate(-90)">Counts</text>
</svg>
</body></html>
